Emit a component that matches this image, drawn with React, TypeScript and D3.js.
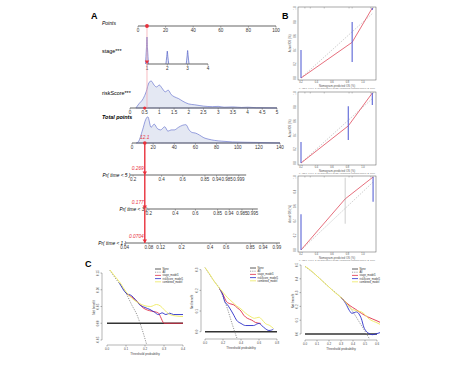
import * as d3 from "d3";

const W = 474;
const H = 366;
const FONT = "'Liberation Sans', Arial, sans-serif";
const RED = "#e8313c";
const DENS_STROKE = "#5663c9";
const DENS_FILL = "#e4e8f3";

// ---------- Panel A: nomogram data ----------
const pointsTicks = [0, 20, 40, 60, 80, 100];
const stageLevels = [1, 2, 3, 4];
const stageDensity = [1.0, 0.48, 0.5, 0];
const riskTicks = [0, 0.5, 1, 1.5, 2, 2.5, 3, 3.5, 4, 4.5, 5];
const riskDensX = [0.2, 0.3, 0.45, 0.55, 0.65, 0.72, 0.82, 0.9, 1.0, 1.08, 1.2, 1.3, 1.4, 1.5, 1.65, 1.8, 2.0, 2.2, 2.5, 2.8, 3.0, 3.2, 3.5, 3.8, 4.0, 4.3, 5.0];
const riskDensY = [0, 0.15, 0.35, 0.6, 0.95, 1.0, 0.85, 0.78, 0.85, 0.75, 0.6, 0.66, 0.5, 0.42, 0.35, 0.25, 0.15, 0.12, 0.07, 0.05, 0.06, 0.03, 0.04, 0.02, 0.03, 0.01, 0];
const totalTicks = [0, 20, 40, 60, 80, 100, 120, 140];
const totalDensX = [4, 6, 10, 13, 15, 18, 21, 24, 27, 31, 34, 37, 40, 44, 48, 51, 54, 57, 60, 64, 68, 72, 78, 85, 95, 105, 120, 140];
const totalDensY = [0, 0.05, 0.5, 0.9, 1.0, 0.6, 0.72, 0.55, 0.5, 0.62, 0.45, 0.5, 0.5, 0.6, 0.68, 0.7, 0.5, 0.4, 0.38, 0.3, 0.2, 0.15, 0.1, 0.07, 0.04, 0.03, 0.02, 0];

const prRowNames = ["Pr( time < 5 )", "Pr( time < 3 )", "Pr( time < 1 )"];
const prRowRange = [[-2, 108], [14, 119], [-6, 140]];
const pr5Labels = ["0.2", "0.4", "0.6", "0.85", "0.94", "0.985", "0.999"];
const pr5Points = [1, 28, 48, 69, 80, 90, 101];
const pr3Labels = ["0.2", "0.4", "0.6", "0.85", "0.94", "0.985", "0.995"];
const pr3Points = [16, 41, 60, 81, 92, 104, 114];
const pr1Labels = ["0.04", "0.08", "0.12", "0.2", "0.4", "0.6", "0.85", "0.94", "0.99"];
const pr1Points = [-7, 16, 27, 47, 74, 89, 112, 124, 137];
const predicted = ["0.269", "0.177", "0.0704"];

const patientStage = 1;
const patientRisk = 0.5;
const patientTotal = 12.1;

// ---------- Panel B: calibration data ----------
const calPred = [
  [0.0, 0.66, 0.92],
  [0.0, 0.61, 0.92],
  [0.0, 0.57, 0.93],
];
const calObs = [
  [0.0, 0.51, 1.0],
  [0.0, 0.53, 1.0],
  [0.0, 0.7, 1.0],
];
const calLo = [
  [0.0, 0.23, 0.97],
  [0.0, 0.33, 0.83],
  [0.0, 0.36, 0.66],
];
const calHi = [
  [0.4, 0.8, 1.0],
  [0.3, 0.81, 1.0],
  [0.49, 0.99, 1.0],
];
const calTickLabels = ["0.2", "0.4", "0.6", "0.8", "1.0"];

// ---------- Panel C: decision curve data ----------
const dcaNames = ["None", "All", "stage_model1", "riskScore_model1", "combined_model"];
const dcaColors = ["#333333", "#8a8a8a", "#e0304a", "#2b2fc8", "#eeea60"];

const c1All = [[0, 0.17], [0.05, 0.13], [0.1, 0.09], [0.13, 0.055], [0.157, 0.026], [0.18, -0.01], [0.21, -0.066]];
const c1Stage = [[0.1, 0.09], [0.125, 0.08], [0.148, 0.071], [0.17, 0.058], [0.19, 0.046], [0.21, 0.04], [0.235, 0.036], [0.26, 0.033], [0.27, 0.031], [0.285, 0.015], [0.295, 0.003], [0.3, 0], [0.4, 0]];
const c1Risk = [[0.066, 0.12], [0.1, 0.09], [0.13, 0.082], [0.15, 0.07], [0.17, 0.056], [0.2, 0.047], [0.226, 0.041], [0.25, 0.033], [0.27, 0.026], [0.29, 0.031], [0.31, 0.026], [0.33, 0.03], [0.35, 0.026], [0.4, 0.026]];
const c1Comb = [[0, 0.17], [0.035, 0.145], [0.07, 0.12], [0.1, 0.094], [0.13, 0.075], [0.165, 0.061], [0.2, 0.052], [0.23, 0.05], [0.26, 0.056], [0.28, 0.052], [0.3, 0.041], [0.33, 0.026], [0.36, 0.022], [0.4, 0.02]];

const c2All = [[0, 0.31], [0.1, 0.245], [0.16, 0.21], [0.2, 0.17], [0.25, 0.11], [0.3, 0.04], [0.33, 0.0], [0.37, -0.05]];
const c2Stage = [[0.16, 0.21], [0.2, 0.18], [0.24, 0.145], [0.28, 0.135], [0.32, 0.13], [0.36, 0.115], [0.4, 0.1], [0.43, 0.08], [0.47, 0.065], [0.52, 0.056], [0.56, 0.045], [0.62, 0.04]];
const c2Risk = [[0.16, 0.21], [0.2, 0.175], [0.22, 0.145], [0.25, 0.13], [0.28, 0.11], [0.32, 0.08], [0.35, 0.056], [0.4, 0.04], [0.45, 0.03], [0.5, 0.03], [0.54, 0.03], [0.58, 0.038], [0.6, 0.04], [0.63, 0.03], [0.67, 0.015], [0.71, 0.006], [0.74, 0.008], [0.76, 0.013]];
const c2Comb = [[0, 0.31], [0.05, 0.28], [0.1, 0.245], [0.16, 0.21], [0.2, 0.19], [0.25, 0.165], [0.3, 0.145], [0.35, 0.125], [0.4, 0.11], [0.45, 0.09], [0.5, 0.075], [0.55, 0.065], [0.6, 0.07], [0.63, 0.06], [0.67, 0.04], [0.72, 0.03], [0.76, 0.016]];

const c3All = [[0, 0.49], [0.1, 0.42], [0.2, 0.34], [0.3, 0.265], [0.35, 0.22], [0.4, 0.16], [0.45, 0.09], [0.5, 0.02], [0.52, -0.01], [0.54, -0.04]];
const c3Stage = [[0.3, 0.265], [0.34, 0.23], [0.375, 0.205], [0.42, 0.18], [0.47, 0.15], [0.52, 0.125], [0.56, 0.11], [0.6, 0.095], [0.625, 0.085]];
const c3Risk = [[0.3, 0.265], [0.34, 0.22], [0.37, 0.17], [0.39, 0.15], [0.41, 0.155], [0.43, 0.16], [0.45, 0.145], [0.47, 0.11], [0.49, 0.05], [0.51, 0.02], [0.53, 0.005], [0.56, -0.005], [0.59, 0.0], [0.625, 0.01]];
const c3Comb = [[0, 0.49], [0.05, 0.46], [0.1, 0.42], [0.15, 0.38], [0.2, 0.34], [0.25, 0.3], [0.3, 0.265], [0.34, 0.23], [0.375, 0.19], [0.42, 0.17], [0.47, 0.16], [0.5, 0.14], [0.52, 0.12], [0.55, 0.1], [0.59, 0.085], [0.625, 0.07]];

// ---------- Nomogram ----------
function NomoAxis({ scale, ticks, labels, y, from, to, size = 4.6 }: any) {
  return (
    <g>
      <line x1={scale(from)} x2={scale(to)} y1={y} y2={y} stroke="#666" strokeWidth={1.1} />
      {ticks.map((t: number, i: number) => (
        <g key={i}>
          <line x1={scale(t)} x2={scale(t)} y1={y} y2={y + 1.6} stroke="#666" strokeWidth={0.6} />
          <text x={scale(t)} y={y + 5.6} fontSize={size} textAnchor="middle" fill="#333">
            {labels ? labels[i] : String(t)}
          </text>
        </g>
      ))}
    </g>
  );
}

function Nomogram() {
  const ptsX = d3.scaleLinear().domain([0, 100]).range([138, 276]);
  const stageToPts = d3.scaleLinear().domain([1, 4]).range([6.5, 50.7]);
  const riskToPts = d3.scaleLinear().domain([0, 5]).range([-5.8, 100.7]);
  const stageX = (v: number) => ptsX(stageToPts(v));
  const riskX = (v: number) => ptsX(riskToPts(v));
  const totX = d3.scaleLinear().domain([0, 140]).range([132, 280]);

  const stageY = 64;
  const riskY = 108;
  const totY = 143;
  const densH = d3.scaleLinear().domain([0, 1]).range([0, 27]);

  const spike = d3
    .line<[number, number]>()
    .x((d) => stageX(d[0]))
    .y((d) => stageY - densH(d[1]))
    .curve(d3.curveMonotoneX);

  const riskArea = d3
    .area<number>()
    .x((d) => riskX(d))
    .y0(riskY)
    .y1((_, i) => riskY - densH(riskDensY[i]))
    .curve(d3.curveMonotoneX);

  const totArea = d3
    .area<number>()
    .x((d) => totX(d))
    .y0(totY)
    .y1((_, i) => totY - densH(totalDensY[i]) * 0.97)
    .curve(d3.curveMonotoneX);

  const prY = [175, 209, 243];
  const prLabels = [pr5Labels, pr3Labels, pr1Labels];
  const prPoints = [pr5Points, pr3Points, pr1Points];
  const px = totX(patientTotal);
  const tri = (x: number, y: number) => `M${x - 2.2},${y - 3.6}L${x + 2.2},${y - 3.6}L${x},${y}Z`;

  return (
    <g fontFamily={FONT}>
      <text x={91} y={19} fontSize={9} fontWeight="bold">A</text>
      <text x={102} y={25} fontSize={5} fontStyle="italic">Points</text>
      <NomoAxis scale={ptsX} ticks={pointsTicks} y={26} from={0} to={100} />

      <text x={102} y={53} fontSize={5.4}>stage***</text>
      {stageLevels.map((s, i) =>
        stageDensity[i] > 0 ? (
          <path
            key={s}
            d={spike([[s - 0.07, 0], [s - 0.025, stageDensity[i] * 0.6], [s, stageDensity[i]], [s + 0.025, stageDensity[i] * 0.6], [s + 0.07, 0]]) || ""}
            fill={DENS_FILL}
            stroke={DENS_STROKE}
            strokeWidth={0.7}
          />
        ) : null
      )}
      <NomoAxis scale={stageX} ticks={stageLevels} y={stageY} from={1} to={4} />

      <text x={102} y={95} fontSize={5.4}>riskScore***</text>
      <path d={riskArea(riskDensX) || ""} fill={DENS_FILL} stroke={DENS_STROKE} strokeWidth={0.6} />
      <NomoAxis scale={riskX} ticks={riskTicks} y={riskY} from={0} to={5} />

      <text x={102} y={119} fontSize={5.4} fontWeight="bold" fontStyle="italic">Total points</text>
      <path d={totArea(totalDensX) || ""} fill={DENS_FILL} stroke={DENS_STROKE} strokeWidth={0.6} />
      <NomoAxis scale={totX} ticks={totalTicks} y={totY} from={0} to={140} />

      {prRowNames.map((name, r) => (
        <g key={name}>
          <text x={totX(prRowRange[r][0]) + 0.5} y={prY[r] + 1.5} fontSize={4.8} fontStyle="italic" textAnchor="end">
            {name}
          </text>
          <NomoAxis
            scale={totX}
            ticks={prPoints[r]}
            labels={prLabels[r]}
            y={prY[r]}
            from={prRowRange[r][0]}
            to={prRowRange[r][1]}
            size={4.5}
          />
        </g>
      ))}

      {/* patient path */}
      <line x1={stageX(patientStage)} x2={stageX(patientStage)} y1={26} y2={riskY} stroke="#f4a0a8" strokeWidth={0.7} />
      <line x1={px} x2={px} y1={totY} y2={prY[2]} stroke={RED} strokeWidth={1.4} />
      <circle cx={stageX(patientStage)} cy={26} r={1.9} fill={RED} />
      <path d={tri(stageX(patientStage), stageY)} fill={RED} />
      <circle cx={riskX(patientRisk)} cy={riskY} r={1.6} fill={RED} />
      <circle cx={px} cy={totY} r={1.8} fill={RED} />
      <text x={px} y={139} fontSize={4.8} fill={RED} textAnchor="middle" fontStyle="italic">{String(patientTotal)}</text>
      {prY.map((y, r) => (
        <g key={r}>
          <path d={tri(px, y)} fill={RED} />
          <text x={px - 1} y={y - 5.5} fontSize={4.8} fill={RED} textAnchor="end" fontStyle="italic">{predicted[r]}</text>
        </g>
      ))}
    </g>
  );
}

// ---------- Calibration plots ----------
function Calibration({ idx, top, bottom }: { idx: number; top: number; bottom: number }) {
  const left = 298;
  const right = 376;
  const x = d3.scaleLinear().domain([0, 1]).range([301, 378.5]);
  const y = d3.scaleLinear().domain([0, 1]).range([bottom - 2, top + 1]);
  const pts = calPred[idx].map((p, i) => [p, calObs[idx][i]] as [number, number]);
  const line = d3.line<[number, number]>().x((d) => x(d[0])).y((d) => y(d[1]));
  const xt = [0.0, 0.2, 0.4, 0.6, 0.8];
  const yt = [0, 0.2, 0.4, 0.6, 0.8, 1.0];
  const barColor = (i: number) => (i === 1 && idx === 2 ? "#9a9a9a" : "#5a64d6");
  return (
    <g fontFamily={FONT}>
      <rect x={left} y={top} width={right - left} height={bottom - top} fill="none" stroke="#555" strokeWidth={0.5} />
      {[0.05, 0.12, 0.3, 0.62, 0.66, 0.9, 0.93].map((v, i) => (
        <line key={i} x1={x(v)} x2={x(v)} y1={top} y2={top + 1.5} stroke="#777" strokeWidth={0.4} />
      ))}
      <line x1={x(0)} y1={y(0)} x2={x(0.93)} y2={y(0.93)} stroke="#b0b0b0" strokeWidth={0.6} strokeDasharray="1.5,1.2" />
      <path d={line(pts) || ""} fill="none" stroke="#e04a5c" strokeWidth={0.8} />
      {calPred[idx].map((p, i) => (
        <line key={i} x1={x(p)} x2={x(p)} y1={y(calLo[idx][i])} y2={y(calHi[idx][i])} stroke={barColor(i)} strokeWidth={i === 1 && idx === 2 ? 0.5 : 1.1} />
      ))}
      {xt.map((t, i) => (
        <text key={i} x={x(t)} y={bottom + 3.3} fontSize={2.6} textAnchor="middle" fill="#555">{calTickLabels[i]}</text>
      ))}
      {yt.map((t, i) => (
        <text key={i} x={left - 2} y={y(t)} fontSize={2.6} textAnchor="middle" fill="#555" transform={`rotate(-90 ${left - 2} ${y(t)})`}>
          {t.toFixed(1)}
        </text>
      ))}
      <text x={291} y={(top + bottom) / 2} fontSize={2.8} textAnchor="middle" fill="#555" transform={`rotate(-90 291 ${(top + bottom) / 2})`}>
        Actual OS (%)
      </text>
      <text x={(left + right) / 2} y={bottom + 6.5} fontSize={2.8} textAnchor="middle" fill="#555">
        Nomogram-predicted OS (%)
      </text>
      <text x={left + 1} y={bottom + 8.5} fontSize={2.2} fill="#777">n=432 d=140 p=2, 50 subjects per group</text>
      <text x={right - 1} y={bottom + 8.5} fontSize={2.2} fill="#777" textAnchor="end">X - resampling optimism added, B=1000</text>
    </g>
  );
}

// ---------- Decision curves ----------
function DCA({ xDomain, xRange, xTicks, xFmt, yDomain, yRange, yTicks, yFmt, axisX, axisY, curves, legendX, legendY, id }: any) {
  const x = d3.scaleLinear().domain(xDomain).range(xRange);
  const y = d3.scaleLinear().domain(yDomain).range(yRange);
  const line = d3.line<number[]>().x((d) => x(d[0])).y((d) => y(d[1])).curve(d3.curveMonotoneX);
  const clipTop = yRange[1] - 3;
  const clipBottom = axisY - 1;
  const noneData = [[xDomain[0], 0], [xDomain[1], 0]];
  const series = [noneData, ...curves];
  const yMid = (clipTop + axisY) / 2;
  return (
    <g fontFamily={FONT}>
      <defs>
        <clipPath id={id}>
          <rect x={axisX} y={clipTop} width={xRange[1] - axisX + 3} height={clipBottom - clipTop} />
        </clipPath>
      </defs>
      <line x1={axisX} x2={axisX} y1={y(yTicks[0])} y2={y(yTicks[yTicks.length - 1])} stroke="#444" strokeWidth={0.4} />
      {yTicks.map((t: number, i: number) => (
        <g key={i}>
          <line x1={axisX - 1.5} x2={axisX} y1={y(t)} y2={y(t)} stroke="#444" strokeWidth={0.4} />
          <text x={axisX - 3} y={y(t)} fontSize={3} textAnchor="middle" fill="#444" transform={`rotate(-90 ${axisX - 3} ${y(t)})`}>
            {yFmt(t)}
          </text>
        </g>
      ))}
      <line x1={x(xTicks[0])} x2={x(xTicks[xTicks.length - 1])} y1={axisY} y2={axisY} stroke="#444" strokeWidth={0.4} />
      {xTicks.map((t: number, i: number) => (
        <g key={i}>
          <line x1={x(t)} x2={x(t)} y1={axisY} y2={axisY + 1.5} stroke="#444" strokeWidth={0.4} />
          <text x={x(t)} y={axisY + 5} fontSize={3} textAnchor="middle" fill="#444">{xFmt(t)}</text>
        </g>
      ))}
      <text x={axisX - 7.5} y={yMid} fontSize={3} textAnchor="middle" fill="#444" transform={`rotate(-90 ${axisX - 7.5} ${yMid})`}>
        Net benefit
      </text>
      <text x={(xRange[0] + xRange[1]) / 2} y={axisY + 10} fontSize={3.2} textAnchor="middle" fill="#444">
        Threshold probability
      </text>
      <g clipPath={`url(#${id})`}>
        {series.map((s: number[][], i: number) => (
          <path
            key={i}
            d={(i === 0 ? d3.line<number[]>().x((d) => x(d[0])).y((d) => y(d[1]))(s) : line(s)) || ""}
            fill="none"
            stroke={dcaColors[i]}
            strokeWidth={i === 0 ? 1.6 : 0.9}
            strokeDasharray={i === 1 ? "1.2,1.2" : undefined}
          />
        ))}
      </g>
      {dcaNames.map((n, i) => (
        <g key={n}>
          <line x1={legendX} x2={legendX + 6} y1={legendY + i * 3.2} y2={legendY + i * 3.2} stroke={dcaColors[i]} strokeWidth={0.8} strokeDasharray={i === 1 ? "1,0.8" : undefined} />
          <text x={legendX + 7.5} y={legendY + i * 3.2 + 1} fontSize={2.6} fill="#333">{n}</text>
        </g>
      ))}
    </g>
  );
}

export default function App() {
  const f1 = (t: number) => t.toFixed(1);
  const f2 = (t: number) => t.toFixed(2);
  return (
    <svg width={W} height={H} style={{ position: "absolute", left: 0, top: 0, background: "#fff" }}>
      <rect width={W} height={H} fill="#fff" />
      <Nomogram />
      <text x={282} y={19} fontSize={9} fontWeight="bold" fontFamily={FONT}>B</text>
      <Calibration idx={0} top={7} bottom={80} />
      <Calibration idx={1} top={92} bottom={165} />
      <Calibration idx={2} top={176} bottom={252} />

      <text x={85} y={267} fontSize={9} fontWeight="bold" fontFamily={FONT}>C</text>
      <DCA
        id="c1"
        xDomain={[0, 0.4]}
        xRange={[107, 183]}
        xTicks={[0, 0.1, 0.2, 0.3, 0.4]}
        xFmt={f1}
        yDomain={[-0.05, 0.15]}
        yRange={[340, 273]}
        yTicks={[-0.05, 0, 0.05, 0.1, 0.15]}
        yFmt={f2}
        axisX={102}
        axisY={345}
        curves={[c1All, c1Stage, c1Risk, c1Comb]}
        legendX={155}
        legendY={269}
      />
      <DCA
        id="c2"
        xDomain={[0, 0.8]}
        xRange={[205, 277]}
        xTicks={[0, 0.2, 0.4, 0.6, 0.8]}
        xFmt={f1}
        yDomain={[-0.04, 0.31]}
        yRange={[340, 267.6]}
        yTicks={[0, 0.1, 0.2, 0.3]}
        yFmt={f1}
        axisX={201}
        axisY={339}
        curves={[c2All, c2Stage, c2Risk, c2Comb]}
        legendX={250}
        legendY={268}
      />
      <DCA
        id="c3"
        xDomain={[0, 0.6]}
        xRange={[305, 377]}
        xTicks={[0, 0.1, 0.2, 0.3, 0.4, 0.5, 0.6]}
        xFmt={f1}
        yDomain={[0, 0.5]}
        yRange={[334, 265]}
        yTicks={[0, 0.1, 0.2, 0.3, 0.4, 0.5]}
        yFmt={f1}
        axisX={301}
        axisY={340}
        curves={[c3All, c3Stage, c3Risk, c3Comb]}
        legendX={352}
        legendY={269}
      />
    </svg>
  );
}
